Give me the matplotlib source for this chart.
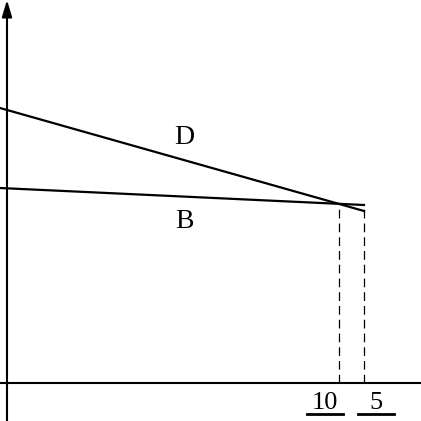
import matplotlib
matplotlib.use("Agg")
import matplotlib.pyplot as plt

# curve end points (x, y) in diagram units
d_x = [-7, 357]
d_y = [275, 172]
b_x = [-7, 357]
b_y = [195, 178]

# dashed drop lines
drop_x = [332, 357]
drop_top = [179, 178]

# fraction labels under the x axis (numerators only, denominators are cut off)
frac_text = ["10", "5"]
frac_x = [318, 369]

plt.rcParams["font.family"] = ["Liberation Serif", "DejaVu Serif"]

fig = plt.figure(figsize=(4.21, 4.21), dpi=100)
ax = fig.add_axes([0, 0, 1, 1])
ax.set_xlim(-7, 414)
ax.set_ylim(-38, 383)
ax.axis("off")

# axes of the diagram
ax.plot([-7, 414], [0, 0], color="black", lw=1.5)
ax.annotate("", xy=(0, 383), xytext=(0, -38),
            arrowprops=dict(arrowstyle="-|>,head_length=1.0,head_width=0.3",
                            color="black", lw=1.5, shrinkA=0, shrinkB=0))

ax.plot(d_x, d_y, color="black", lw=1.6)
ax.plot(b_x, b_y, color="black", lw=1.6)

for x, top in zip(drop_x, drop_top):
    ax.plot([x, x], [0, top], color="black", lw=0.9, linestyle=(0, (7, 4)))

ax.text(177, 246, "D", fontsize=20, ha="center", va="center")
ax.text(177, 162, "B", fontsize=20, ha="center", va="center")

for txt, x in zip(frac_text, frac_x):
    ax.text(x, -26, txt, fontsize=19, ha="center", va="baseline")
    ax.plot([x - 18, x + 18], [-31, -31], color="black", lw=2)

fig.savefig("out.png", dpi=100)
